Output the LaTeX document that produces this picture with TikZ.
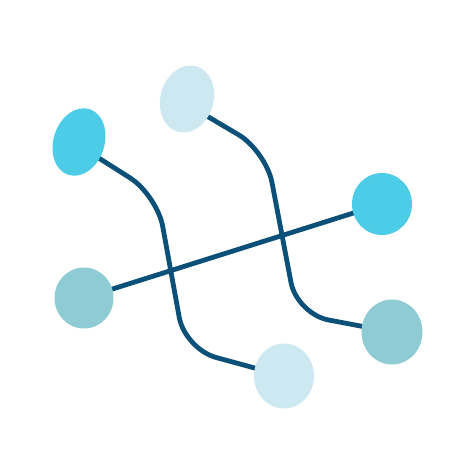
\documentclass[tikz,border=0pt]{standalone}
\usetikzlibrary{shapes.geometric,backgrounds}
\definecolor{cyanc}{HTML}{4DCCE8}
\definecolor{lightc}{HTML}{CEE8F1}
\definecolor{tealc}{HTML}{8FCBD3}
\definecolor{linec}{HTML}{0B5079}
\tikzset{
  dot/.style={ellipse, inner sep=0pt, draw=none},
  link/.style={draw=linec, line width=4.8pt, rounded corners=32pt}
}
\begin{document}
\begin{tikzpicture}[x=1pt,y=-1pt]
\useasboundingbox (0,0) rectangle (474,474);
% nodes
\node[dot, fill=cyanc, minimum width=51pt, minimum height=69pt, rotate=-18] (c1) at (79,142) {};
\node[dot, fill=lightc, minimum width=53pt, minimum height=68pt, rotate=-16] (l1) at (187,99) {};
\node[dot, fill=cyanc, minimum width=60pt, minimum height=62pt] (c2) at (382,204) {};
\node[dot, fill=tealc, minimum width=59pt, minimum height=61pt] (t1) at (84,298) {};
\node[dot, fill=tealc, minimum width=61pt, minimum height=65pt] (t2) at (392,332) {};
\node[dot, fill=lightc, minimum width=60pt, minimum height=65pt] (l2) at (284,376) {};
% connectors
\begin{scope}[on background layer]
\draw[link] ([xshift=4pt,yshift=-6pt]c1.center) -- (157,195) -- (185,349) -- (l2.center);
\draw[link] ([xshift=8pt,yshift=-10pt]l1.center) -- (266,151) -- (297,314) -- (t2.center);
\draw[link] (t1.center) -- (c2.center);
\end{scope}
\end{tikzpicture}
\end{document}
